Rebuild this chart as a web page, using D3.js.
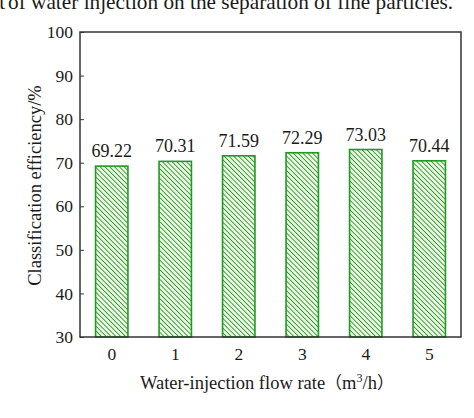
<!DOCTYPE html>
<html><head><meta charset="utf-8">
<script src="https://cdn.jsdelivr.net/npm/d3@7"></script>
<style>body{margin:0;background:#fff}svg{display:block}text{font-family:"Liberation Serif","Times New Roman",serif;fill:#1a1a1a}</style>
</head><body><svg id="c" width="474" height="418"></svg>
<script>
const categories = ["0","1","2","3","4","5"];
const values = [69.22, 70.31, 71.59, 72.29, 73.03, 70.44];
const yTicks = [30,40,50,60,70,80,90,100];
const xTitleMain = "Water-injection flow rate";
const xTitleUnit = ["（", "m", "3", "/h", "）"];
const yTitle = "Classification efficiency/%";
const captionHead = "Effect";
const caption = "of water injection on the separation of fine particles.";

const svg = d3.select("#c");
const L=80, R=461, T=32, B=337;
const x = d3.scaleBand().domain(categories).range([L,R]).paddingInner(0.49).paddingOuter(0.245);
const y = d3.scaleLinear().domain([30,100]).range([B,T]);

const defs = svg.append("defs");
const s = 3.4;
const pat = defs.append("pattern").attr("id","hatch").attr("patternUnits","userSpaceOnUse")
  .attr("width",s).attr("height",s).attr("patternTransform","rotate(-45)");
pat.append("rect").attr("width",s).attr("height",s).attr("fill","#f2fbea");
pat.append("line").attr("x1",0).attr("y1",0).attr("x2",0).attr("y2",s).attr("stroke","#229a22").attr("stroke-width",1.8);

// caption at top (cut off by the page edge, as in the source)
svg.append("text").attr("x",5).attr("y",9).attr("text-anchor","end")
  .style("font-size","21px").text(captionHead);
svg.append("text").attr("x",8).attr("y",9)
  .attr("textLength",445).attr("lengthAdjust","spacingAndGlyphs")
  .style("font-size","21px").text(caption);

// bars
svg.selectAll("rect.bar").data(values).enter().append("rect").attr("class","bar")
  .attr("x",(d,i)=>x(categories[i])).attr("width",x.bandwidth())
  .attr("y",d=>y(d)).attr("height",d=>B-y(d))
  .attr("fill","url(#hatch)").attr("stroke","#1f9a1f").attr("stroke-width",1.6);

svg.selectAll("text.val").data(values).enter().append("text").attr("class","val")
  .attr("x",(d,i)=>x(categories[i])+x.bandwidth()/2).attr("y",d=>y(d)-9)
  .attr("text-anchor","middle").style("font-size","18px").text(d=>d.toFixed(2));

// axes
const yAxis = d3.axisLeft(y).tickValues(yTicks).tickSize(-4).tickPadding(7);
const gy = svg.append("g").attr("transform",`translate(${L},0)`).call(yAxis)
  .attr("font-family","Liberation Serif").attr("font-size",17.5);
gy.select(".domain").remove();
gy.selectAll("line").attr("stroke","#333");
gy.selectAll("text").attr("fill","#1a1a1a");

const xAxis = d3.axisBottom(x).tickSize(0).tickPadding(11);
const gx = svg.append("g").attr("transform",`translate(0,${B})`).call(xAxis)
  .attr("font-family","Liberation Serif").attr("font-size",17.5);
gx.select(".domain").remove();
gx.selectAll("text").attr("fill","#1a1a1a");

// frame
svg.append("rect").attr("x",L).attr("y",T).attr("width",R-L).attr("height",B-T)
  .attr("fill","none").attr("stroke","#333").attr("stroke-width",1.5);

const xt = svg.append("text").attr("x",140).attr("y",389).style("font-size","18.5px");
xt.append("tspan").text(xTitleMain);
xt.append("tspan").style("font-family","'Noto Sans CJK SC'").style("font-size","17px").text(xTitleUnit[0]);
xt.append("tspan").text(xTitleUnit[1]);
xt.append("tspan").attr("dy",-7).style("font-size","12px").text(xTitleUnit[2]);
xt.append("tspan").attr("dy",7).text(xTitleUnit[3]);
xt.append("tspan").style("font-family","'Noto Sans CJK SC'").style("font-size","17px").text(xTitleUnit[4]);

svg.append("text").attr("transform",`translate(41,${(T+B)/2+1}) rotate(-90)`).attr("text-anchor","middle")
  .style("font-size","18.5px").text(yTitle);
</script></body></html>
